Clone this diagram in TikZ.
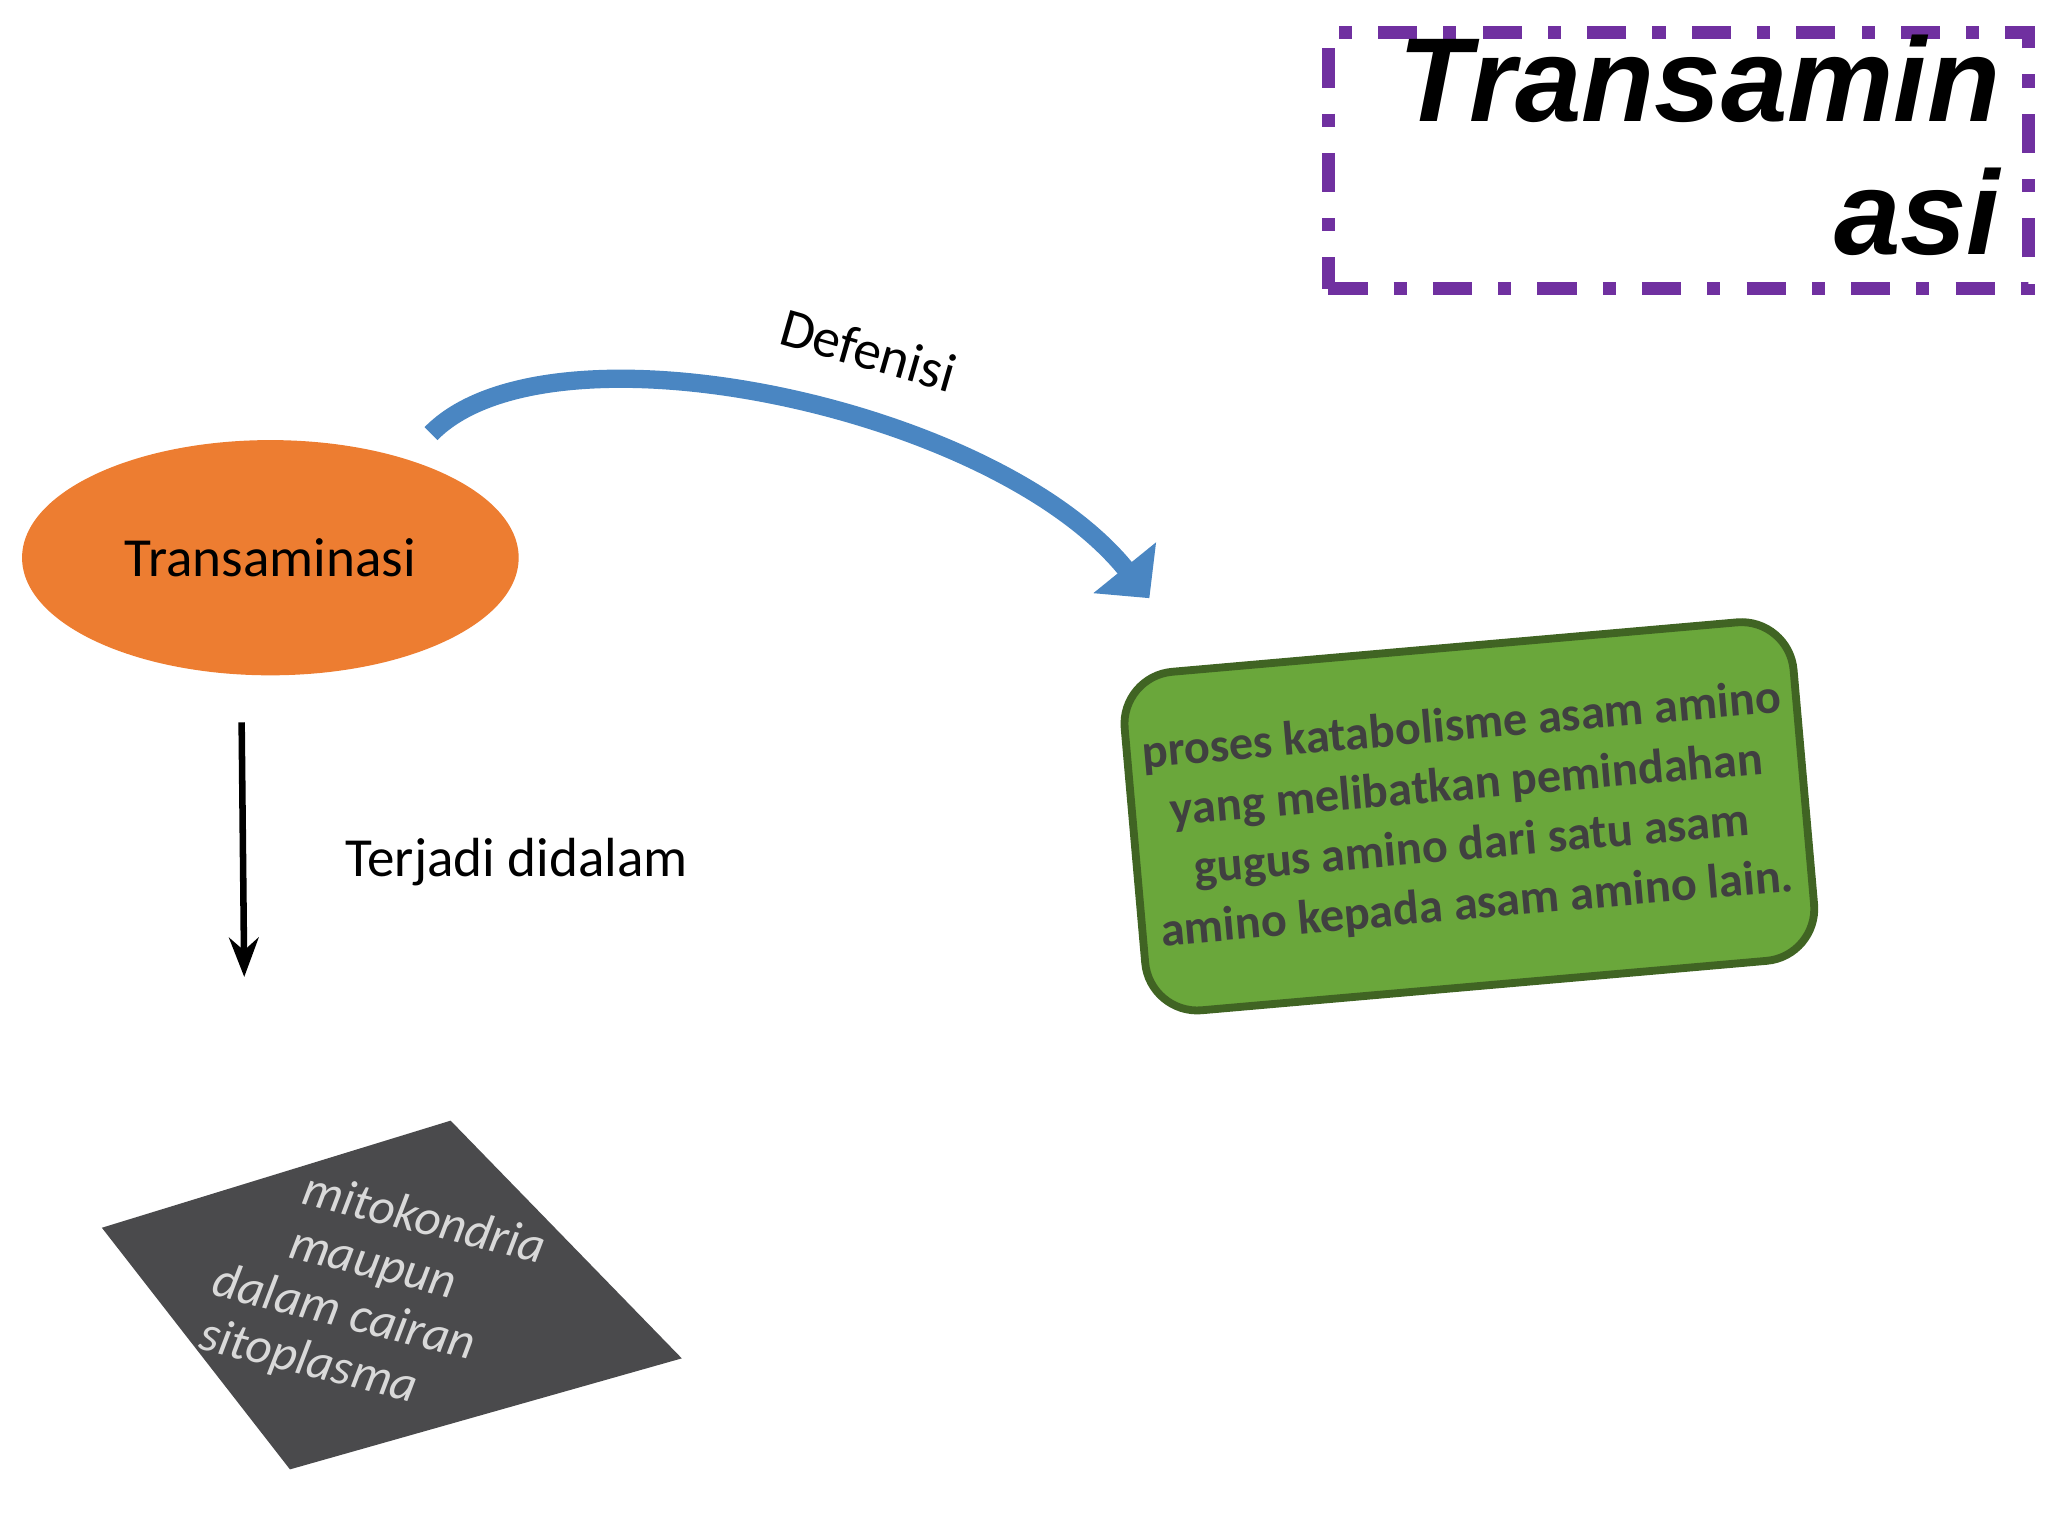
\documentclass[tikz,border=0pt]{standalone}
\usepackage{fontspec}
\setmainfont{Carlito}
\newfontfamily\titlefont{Liberation Sans}
\usetikzlibrary{shapes.geometric,arrows.meta}
\definecolor{orangefill}{HTML}{ED7D31}
\definecolor{bluearrow}{HTML}{4A86C2}
\definecolor{greenfill}{HTML}{6AA73B}
\definecolor{darkfill}{HTML}{4A4A4C}
\definecolor{purpleline}{HTML}{7030A0}
\begin{document}
\begin{tikzpicture}[x=0.01cm, y=-0.01cm]
        \useasboundingbox (0,0) rectangle (1568,1176);
        \tikzset{
            labeltext/.style={font=\fontsize{12}{14}\selectfont, text=black},
            boxtext/.style={font=\fontsize{10.5}{13}\selectfont\bfseries, align=center}
        }
        % title
        \node[draw=purpleline, line width=1mm, dash pattern=on 3mm off 2mm on 1mm off 2mm, minimum width=5.36cm, minimum height=1.96cm, anchor=north west] (title) at (1012,20) {};
        \node[anchor=north east, align=right, inner sep=0pt, font=\titlefont\fontsize{26}{29}\selectfont\bfseries\itshape] (titletext) at (1532,26) {Transamin\\asi};
        % nodes
        \node[ellipse, fill=orangefill, minimum width=3.8cm, minimum height=1.8cm, font=\fontsize{12}{14}\selectfont] (T) at (207,427) {Transaminasi};
        \node[draw=greenfill!60!black, fill=greenfill, rounded corners=0.4cm, line width=0.6mm, minimum width=4.9cm, minimum height=2.6cm, rotate=5, text=black!75, boxtext] (D) at (1125,625)
            {proses katabolisme asam amino\\yang melibatkan pemindahan\\gugus amino dari satu asam\\amino kepada asam amino lain.};
        \coordinate (M1) at (78,940);
        \coordinate (M2) at (345,858);
        \coordinate (M3) at (522,1040);
        \coordinate (M4) at (222,1125);
        \fill[darkfill] (M1) -- (M2) -- (M3) -- (M4) -- cycle;
        \node[rotate=-14, text=black!15, align=left, font=\fontsize{11}{12}\selectfont\itshape] (M) at (285,990)
            {\hspace*{0.5cm}mitokondria\\\hspace*{0.5cm}maupun\\dalam cairan\\sitoplasma};
        % connectors
        \coordinate (a1) at (330,332);
        \coordinate (a2) at (880,458);
        \draw[bluearrow, line width=1.4mm, -{Triangle[length=3mm, width=6mm]}] (a1) .. controls (420,240) and (760,310) .. (a2);
        \node[rotate=-16, labeltext] (defn) at (665,268) {Defenisi};
        \coordinate (b1) at (185,553);
        \coordinate (b2) at (187,748);
        \draw[line width=0.5mm, -{Stealth[length=3mm]}] (b1) -- (b2);
        \node[labeltext, anchor=west] (terjadi) at (252,660) {Terjadi didalam};
    \end{tikzpicture}
\end{document}
